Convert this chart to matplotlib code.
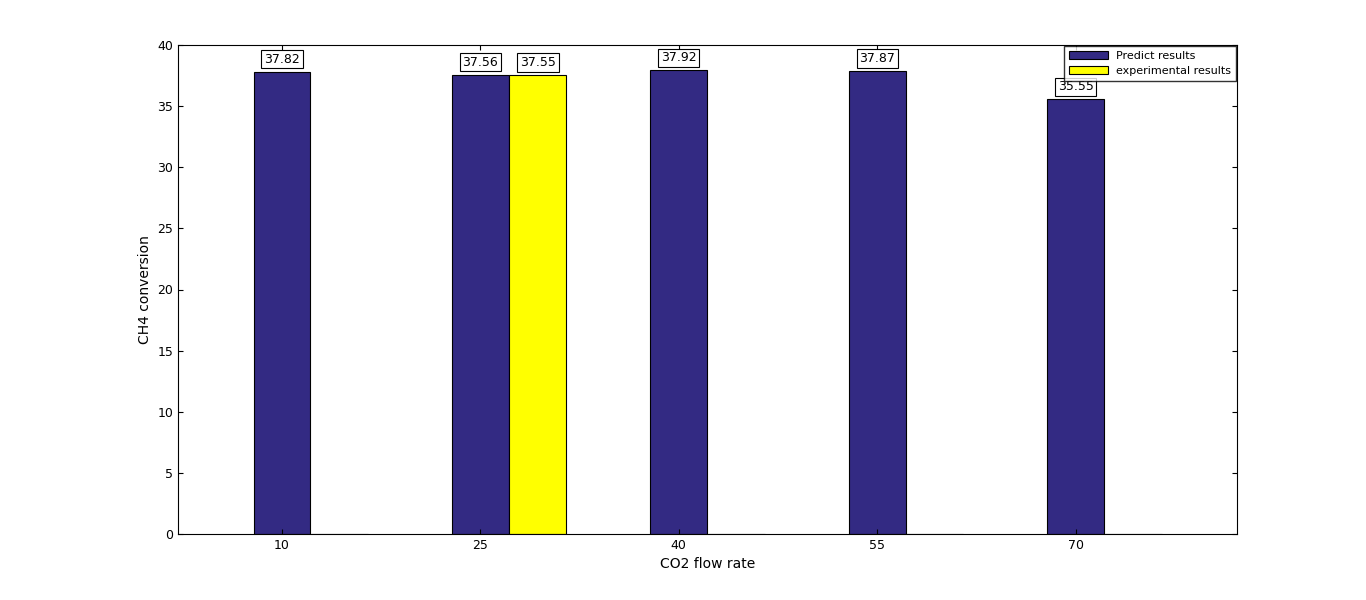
import matplotlib
matplotlib.use("Agg")
import matplotlib.pyplot as plt
import numpy as np

flow = [10, 25, 40, 55, 70]
predict = [37.82, 37.56, 37.92, 37.87, 35.55]
experimental = [0, 37.55, 0, 0, 0]

fig = plt.figure(figsize=(13.66, 6), dpi=100)
ax = fig.add_axes([178/1366, 66/600, (1237-178)/1366, (534-45)/600])

w = 4.3
x = np.array(flow, dtype=float)
ax.bar(x, predict, width=w, color="#332a83", edgecolor="black", linewidth=0.8, label="Predict results")
ax.bar(x + 4.35, experimental, width=w, color="#ffff00", edgecolor="black", linewidth=0.8, label="experimental results")

for xi, v in zip(x, predict):
    ax.text(xi, v + 0.5, "%.2f" % v, ha="center", va="bottom", fontsize=9,
            bbox=dict(facecolor="white", edgecolor="black", pad=2, linewidth=0.8))
for xi, v in zip(x + 4.35, experimental):
    if v > 0:
        ax.text(xi, v + 0.5, "%.2f" % v, ha="center", va="bottom", fontsize=9,
                bbox=dict(facecolor="white", edgecolor="black", pad=2, linewidth=0.8))

ax.set_xlim(2.14, 82.2)
ax.set_ylim(0, 40)
ax.set_xticks(flow)
ax.set_yticks(range(0, 41, 5))
ax.tick_params(direction="in", top=True, right=True, labelsize=9)
ax.set_xlabel("CO2 flow rate", fontsize=10)
ax.set_ylabel("CH4 conversion", fontsize=10)
ax.legend(loc="upper right", fontsize=8, fancybox=False, edgecolor="black",
          borderaxespad=0.1, handlelength=3.5)

fig.savefig("out.png", dpi=100)
